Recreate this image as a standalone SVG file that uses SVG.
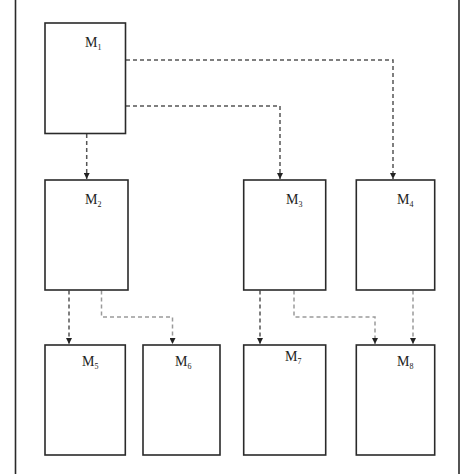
<svg xmlns="http://www.w3.org/2000/svg" width="474" height="474" viewBox="0 0 474 474">
<style>
.box{fill:#fff;stroke:#2a2a2a;stroke-width:1.6}
.frame{stroke:#2a2a2a;stroke-width:1.6}
.lbl{font-family:"Liberation Serif","Times New Roman",serif;font-size:14px;fill:#222}
.sub{font-size:8px}
.c{fill:none;stroke-width:1.5;stroke-dasharray:4 3}
.dk{stroke:#555}
.lt{stroke:#9a9a9a}
</style>
<defs>
<marker id="ah" viewBox="0 0 6 6" refX="6" refY="3" markerWidth="6" markerHeight="6" markerUnits="userSpaceOnUse" orient="auto">
<path d="M0,0 L6,3 L0,6 Z" fill="#222"/>
</marker>
</defs>
<rect width="474" height="474" fill="#fff"/>
<g id="frame">
<line class="frame" x1="15.5" y1="0" x2="15.5" y2="474"/>
<line class="frame" x1="459" y1="0" x2="459" y2="474"/>
</g>
<g id="connectors">
<path class="c dk" d="M86.7,134 V179" marker-end="url(#ah)"/>
<path class="c dk" d="M126,60 H393 V179" marker-end="url(#ah)"/>
<path class="c dk" d="M126,106 H280 V179" marker-end="url(#ah)"/>
<path class="c dk" d="M69,290.5 V344" marker-end="url(#ah)"/>
<path class="c lt" d="M101.5,290.5 V317 H172.5 V344" marker-end="url(#ah)"/>
<path class="c dk" d="M260,290.5 V344" marker-end="url(#ah)"/>
<path class="c lt" d="M294,290.5 V317 H375 V344" marker-end="url(#ah)"/>
<path class="c lt" d="M413,290.5 V344" marker-end="url(#ah)"/>
</g>
<g id="M1"><rect class="box" x="45" y="23" width="80.5" height="110.5"/><text class="lbl" x="85" y="47">M<tspan class="sub" dy="3">1</tspan></text></g>
<g id="M2"><rect class="box" x="45" y="180" width="83" height="110"/><text class="lbl" x="85" y="204">M<tspan class="sub" dy="3">2</tspan></text></g>
<g id="M3"><rect class="box" x="243.7" y="180" width="82" height="110"/><text class="lbl" x="286" y="204">M<tspan class="sub" dy="3">3</tspan></text></g>
<g id="M4"><rect class="box" x="356.3" y="180" width="78.4" height="110"/><text class="lbl" x="397" y="204">M<tspan class="sub" dy="3">4</tspan></text></g>
<g id="M5"><rect class="box" x="45" y="345" width="80.3" height="110"/><text class="lbl" x="82" y="366">M<tspan class="sub" dy="3">5</tspan></text></g>
<g id="M6"><rect class="box" x="143" y="345" width="77" height="110"/><text class="lbl" x="175" y="366">M<tspan class="sub" dy="3">6</tspan></text></g>
<g id="M7"><rect class="box" x="243.7" y="345" width="82" height="110"/><text class="lbl" x="285" y="361">M<tspan class="sub" dy="3">7</tspan></text></g>
<g id="M8"><rect class="box" x="356.3" y="345" width="78.4" height="110"/><text class="lbl" x="397" y="366">M<tspan class="sub" dy="3">8</tspan></text></g>
</svg>
